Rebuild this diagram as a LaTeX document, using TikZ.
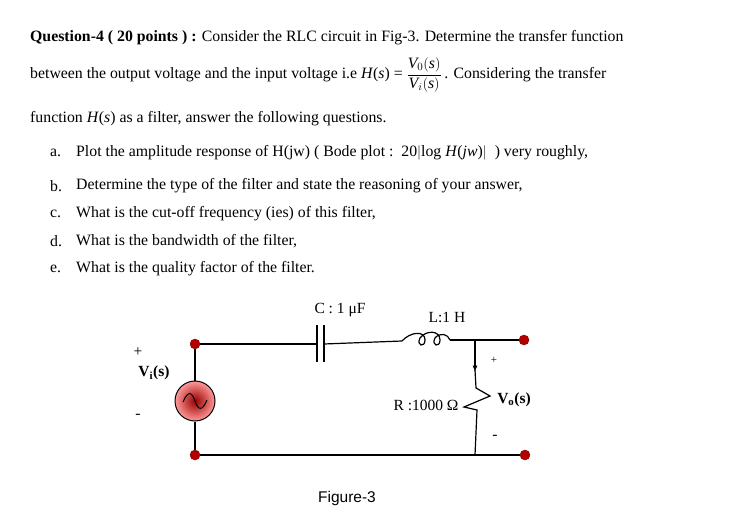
\documentclass[tikz,border=0pt]{standalone}
\usepackage{amsmath}
\usepackage{fontspec}
\setmainfont{Liberation Serif}
\newfontfamily\sansf{Liberation Sans}
\begin{document}
\begin{tikzpicture}[x=1pt,y=-1pt,
  txt/.style={anchor=west,inner sep=0,font=\fontsize{15.8}{17}\selectfont},
  dot/.style={circle,fill=red!70!black,draw=red!50!black,minimum size=10pt,inner sep=0},
  wire/.style={line width=1.2pt},
  lbl/.style={inner sep=0,font=\fontsize{15.5}{17}\selectfont}]
\useasboundingbox (0,0) rectangle (738,518);
\node[txt] (l1) at (30,38) {\textbf{Question-4 ( 20 points ) :} Consider the RLC circuit in Fig-3. Determine the transfer function};
\node[txt] (l2) at (30,75) {between the output voltage and the input voltage i.e \textit{H}(\textit{s}) = $\dfrac{\textit{V}_0(\textit{s})}{\textit{V}_i(\textit{s})}$\,. Considering the transfer};
\node[txt] (l3) at (30,119) {function \textit{H}(\textit{s}) as a filter, answer the following questions.};
\node[txt] (a) at (50,153) {a.};
\node[txt] (at) at (76,153) {Plot the amplitude response of H(jw) ( Bode plot :\ \ 20$\vert$log \textit{H}(\textit{jw})$\vert$\ \ ) very roughly,};
\node[txt] (b) at (50,186) {b.};
\node[txt] (bt) at (76,186) {Determine the type of the filter and state the reasoning of your answer,};
\node[txt] (c) at (50,214) {c.};
\node[txt] (ct) at (76,214) {What is the cut-off frequency (ies) of this filter,};
\node[txt] (d) at (50,241) {d.};
\node[txt] (dt) at (76,241) {What is the bandwidth of the filter,};
\node[txt] (e) at (50,269) {e.};
\node[txt] (et) at (76,269) {What is the quality factor of the filter.};
% circuit
\coordinate (cl) at (317,344); \coordinate (cr) at (323,344);
\coordinate (ls) at (402,341); \coordinate (le) at (450,340);
\coordinate (j) at (475,340); \coordinate (jb) at (475,455);
\coordinate (ra) at (476,388); \coordinate (rb) at (477,410);
\node[circle,draw,line width=1pt,minimum size=40pt,inner sep=0,
  shade,inner color=red!60!black,outer color=pink!80!red] (src) at (195,401) {};
\draw[line width=1pt] (183,402) .. controls (188,390) and (192,392) .. (195,401) .. controls (198,410) and (202,412) .. (207,400);
\node[dot] (tl) at (195,344) {};
\node[dot] (bl) at (195,455) {};
\node[dot] (tr) at (524,340) {};
\node[dot] (br) at (525,455) {};
\draw[wire] (tl) -- (src.north);
\draw[wire] (src.south) -- (bl);
\draw[wire] (tl) -- (cl);
\draw[line width=2.5pt] (317,325) -- (317,362) (324,325) -- (324,362);
\draw[wire] (cr)++(1,0) -- (ls);
\draw[wire] (ls) .. controls (410,332) and (425,330) .. (425,340) .. controls (425,348) and (416,346) .. (420,338)
  .. controls (426,330) and (440,330) .. (440,340) .. controls (440,348) and (431,346) .. (435,338)
  .. controls (440,332) and (448,334) .. (le);
\draw[wire] (le) -- (tr);
\draw[wire,-latex] (j) -- (475,372);
\draw[wire] (475,370) -- (ra) -- (490,396) -- (464,407) -- (rb) -- (jb);
\draw[wire] (bl) -- (br);
\node[lbl] (cap) at (340,310) {C : 1 μF};
\node[lbl] (ind) at (447,317) {L:1 H};
\node[lbl] (res) at (426,405) {R :1000 Ω};
\node[lbl] (p1) at (138,352) {+};
\node[lbl] (m1) at (138,416) {-};
\node[lbl] (vi) at (154,373) {\textbf{V\textsubscript{i}(s)}};
\node[lbl,font=\fontsize{11}{12}\selectfont] (p2) at (494,360) {+};
\node[lbl] (m2) at (495,437) {-};
\node[lbl] (vo) at (514,400) {\textbf{V\textsubscript{o}(s)}};
\node[lbl,font=\sansf\fontsize{15.5}{17}\selectfont] (fig) at (347,498) {Figure-3};
\end{tikzpicture}
\end{document}
